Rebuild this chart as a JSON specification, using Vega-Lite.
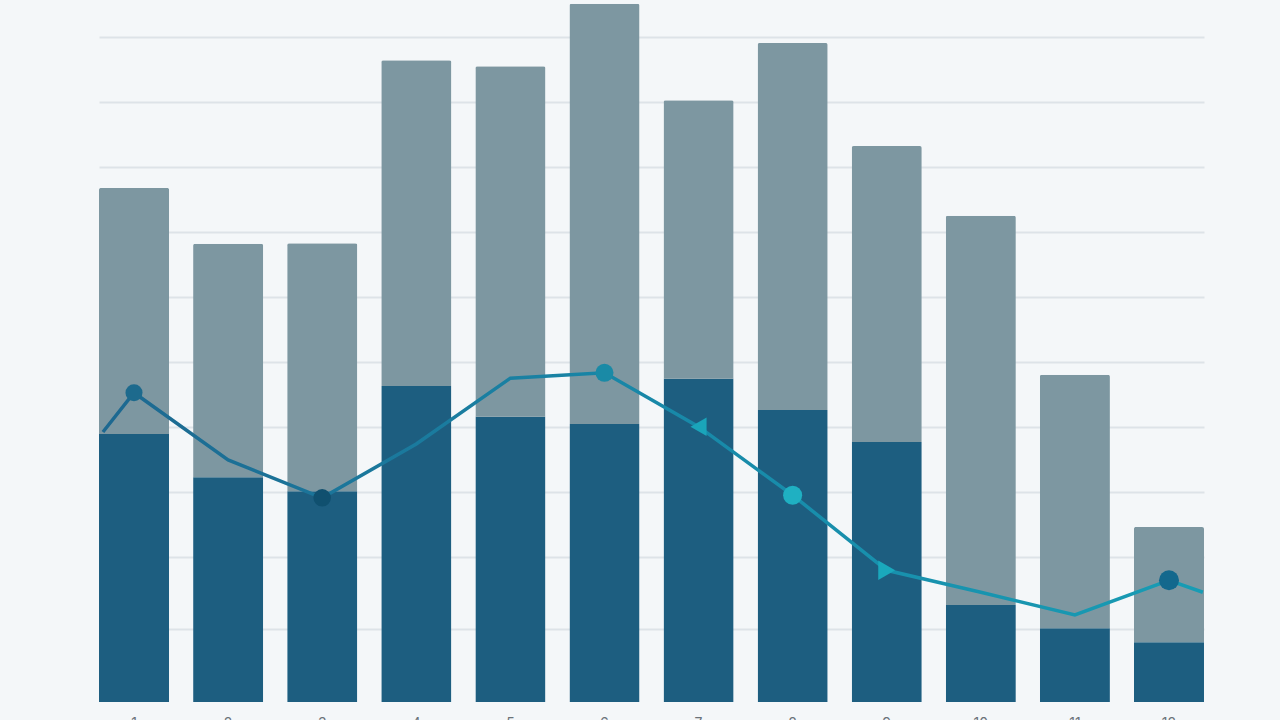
{
  "$schema": "https://vega.github.io/schema/vega-lite/v6.json",
  "width": 1105,
  "height": 702,
  "autosize": {"type": "none"},
  "padding": {"left": 99, "top": 0, "right": 76, "bottom": 18},
  "background": "#f4f7f9",
  "config": {
    "view": {"stroke": null},
    "axis": {"labelFont": "Inter", "domain": false, "ticks": false}
  },
  "datasets": {
    "bars": [
      {"month": "1", "part": "base", "value": 40.3},
      {"month": "1", "part": "top", "value": 37.0},
      {"month": "2", "part": "base", "value": 33.8},
      {"month": "2", "part": "top", "value": 35.1},
      {"month": "3", "part": "base", "value": 31.7},
      {"month": "3", "part": "top", "value": 37.3},
      {"month": "4", "part": "base", "value": 47.5},
      {"month": "4", "part": "top", "value": 49.0},
      {"month": "5", "part": "base", "value": 42.9},
      {"month": "5", "part": "top", "value": 52.7},
      {"month": "6", "part": "base", "value": 41.8},
      {"month": "6", "part": "top", "value": 63.2},
      {"month": "7", "part": "base", "value": 48.6},
      {"month": "7", "part": "top", "value": 41.9},
      {"month": "8", "part": "base", "value": 43.9},
      {"month": "8", "part": "top", "value": 55.2},
      {"month": "9", "part": "base", "value": 39.1},
      {"month": "9", "part": "top", "value": 44.5},
      {"month": "10", "part": "base", "value": 14.6},
      {"month": "10", "part": "top", "value": 58.5},
      {"month": "11", "part": "base", "value": 11.1},
      {"month": "11", "part": "top", "value": 38.1},
      {"month": "12", "part": "base", "value": 9.0},
      {"month": "12", "part": "top", "value": 17.3}
    ],
    "trend": [
      {"pos": -0.33, "rate": 40.6, "marker": null},
      {"pos": 0, "rate": 46.5, "marker": "A"},
      {"pos": 1, "rate": 36.4, "marker": null},
      {"pos": 2, "rate": 30.7, "marker": "B"},
      {"pos": 3, "rate": 38.8, "marker": null},
      {"pos": 4, "rate": 48.7, "marker": null},
      {"pos": 5, "rate": 49.5, "marker": "C"},
      {"pos": 6, "rate": 41.4, "marker": "D"},
      {"pos": 7, "rate": 31.1, "marker": "E"},
      {"pos": 8, "rate": 19.8, "marker": "F"},
      {"pos": 9, "rate": 16.5, "marker": null},
      {"pos": 10, "rate": 13.1, "marker": null},
      {"pos": 11, "rate": 18.3, "marker": "G"},
      {"pos": 11.36, "rate": 16.5, "marker": null}
    ]
  },
  "encoding": {
    "y": {
      "type": "quantitative",
      "scale": {"domain": [0, 105.56], "nice": false},
      "axis": {
        "title": null,
        "labels": false,
        "grid": true,
        "values": [10.98, 21.8, 31.58, 41.35, 51.13, 60.9, 70.68, 80.45, 90.23, 100],
        "gridColor": "#dde3e8",
        "gridWidth": 2
      }
    }
  },
  "layer": [
    {
      "data": {"name": "bars"},
      "mark": {"type": "bar", "cornerRadiusTopLeft": 2, "cornerRadiusTopRight": 2},
      "encoding": {
        "x": {
          "field": "month",
          "type": "ordinal",
          "sort": null,
          "scale": {"paddingInner": 0.255, "paddingOuter": 0},
          "axis": {"title": null, "labelPadding": 14, "labelFontSize": 14, "labelColor": "#6b7379", "labelAngle": 0, "labelBaseline": "top"}
        },
        "y": {"field": "value", "type": "quantitative", "stack": "zero"},
        "color": {
          "field": "part",
          "type": "nominal",
          "scale": {"domain": ["base", "top"], "range": ["#1d5e80", "#7d97a1"]},
          "legend": null
        },
        "order": {"field": "part", "sort": "ascending"}
      }
    },
    {
      "data": {"name": "trend"},
      "mark": {
        "type": "line",
        "strokeWidth": 3.5,
        "color": {
          "gradient": "linear",
          "x1": 0, "y1": 0, "x2": 1, "y2": 0,
          "stops": [
            {"offset": 0, "color": "#1d6890"},
            {"offset": 0.5, "color": "#1888a8"},
            {"offset": 1, "color": "#189cb4"}
          ]
        }
      },
      "encoding": {
        "x": {"field": "pos", "type": "quantitative", "scale": {"domain": [-0.372, 11.372], "nice": false, "zero": false}, "axis": null},
        "y": {"field": "rate", "type": "quantitative"}
      }
    },
    {
      "data": {"name": "trend"},
      "transform": [{"filter": "datum.marker != null"}],
      "mark": {"type": "point", "filled": true, "opacity": 1},
      "encoding": {
        "x": {"field": "pos", "type": "quantitative", "scale": {"domain": [-0.372, 11.372], "nice": false, "zero": false}, "axis": null},
        "y": {"field": "rate", "type": "quantitative"},
        "shape": {
          "field": "marker", "type": "nominal", "legend": null,
          "scale": {"domain": ["A", "B", "C", "D", "E", "F", "G"], "range": ["circle", "circle", "circle", "triangle-left", "circle", "triangle-right", "circle"]}
        },
        "color": {
          "field": "marker", "type": "nominal", "legend": null,
          "scale": {"domain": ["A", "B", "C", "D", "E", "F", "G"], "range": ["#1d6a8d", "#10506f", "#1a8aa6", "#1aa5ba", "#1fb0c2", "#1aa8bc", "#13688d"]}
        },
        "size": {
          "field": "marker", "type": "nominal", "legend": null,
          "scale": {"domain": ["A", "B", "C", "D", "E", "F", "G"], "range": [290, 400, 310, 200, 360, 190, 580]}
        }
      }
    }
  ],
  "resolve": {"scale": {"x": "independent", "color": "independent"}}
}
